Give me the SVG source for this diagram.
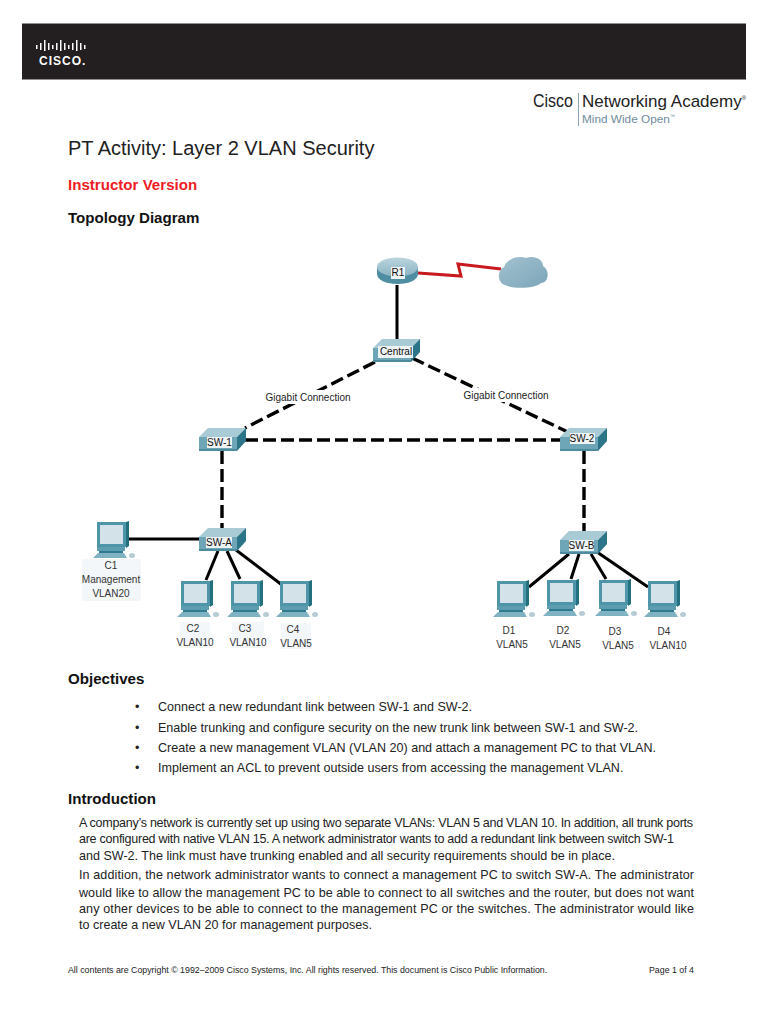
<svg xmlns="http://www.w3.org/2000/svg" width="768" height="1024" viewBox="0 0 768 1024">
<style>
text{font-family:"Liberation Sans",Arial,sans-serif;fill:#111}
.h{font-weight:bold;font-size:15.1px}
.b{font-size:12.55px;fill:#222}
.f{font-size:8.8px;fill:#222}
.n{font-size:10px;fill:#333;text-anchor:middle}
.sl{font-size:10px;fill:#111;text-anchor:middle}
.t{font-size:10px;fill:#222;text-anchor:middle}
.lb{fill:#f4f7fa}
.tag{fill:#eef3f5}
.solid{stroke:#000;stroke-width:3;fill:none}
.dash{stroke:#000;stroke-width:3.4;fill:none;stroke-dasharray:13 5}
</style>
<defs>
<linearGradient id="cloudFill" x1="0" y1="0" x2="1" y2="1"><stop offset="0" stop-color="#a3c2d0"/><stop offset="1" stop-color="#7ba5b8"/></linearGradient>
<linearGradient id="routerTop" x1="0" y1="0" x2="0" y2="1"><stop offset="0" stop-color="#bcd5de"/><stop offset="1" stop-color="#8ab3c3"/></linearGradient>
<g id="sw">
<path d="M0 9L9 0H47L38 9Z" fill="#a9cbd6"/>
<rect x="0" y="9" width="38" height="14" fill="#6ea5b7"/>
<path d="M38 9L47 0V13L38 23Z" fill="#2c7488"/>
<rect x="0" y="21" width="38" height="2" fill="#4d8b9e"/>
</g>
<g id="pc">
<rect x="4" y="0" width="29" height="25" fill="#4f95a9"/>
<path d="M33 0L36 -1V24L33 26Z" fill="#23707f"/>
<rect x="7" y="3" width="23" height="19" fill="#d3e1e9"/>
<rect x="4" y="25" width="28" height="4" fill="#5d9db0"/>
<rect x="6" y="29" width="24" height="2" fill="#2f7a8e"/>
<path d="M5 31H31L34 36H0Z" fill="#7fb3c3"/>
<ellipse cx="39" cy="33.500" rx="3" ry="2.500" fill="#b5ccd5"/>
</g>
</defs>
<rect width="768" height="1024" fill="#fff"/>

<g id="header">
<rect x="22" y="23.500" width="724" height="56" fill="#231f20"/>
<g fill="#fff">
<rect x="36" y="45" width="1.500" height="4"/><rect x="40" y="43" width="1.500" height="7"/><rect x="44" y="40" width="1.500" height="11"/><rect x="48" y="43" width="1.500" height="7"/><rect x="52" y="45" width="1.500" height="4"/><rect x="56" y="43" width="1.500" height="7"/><rect x="60" y="40" width="1.500" height="11"/><rect x="64" y="43" width="1.500" height="7"/><rect x="68" y="45" width="1.500" height="4"/><rect x="72" y="43" width="1.500" height="7"/><rect x="76" y="40" width="1.500" height="11"/><rect x="80" y="43" width="1.500" height="7"/><rect x="84" y="45" width="1.500" height="4"/>
</g>
<text x="39" y="65" style="font-size:12px;font-weight:bold;fill:#fff;letter-spacing:1px">CISCO.</text>
<text x="533" y="107" style="font-size:18px;fill:#222" textLength="40" lengthAdjust="spacingAndGlyphs">Cisco</text>
<rect x="578" y="93" width="1" height="33" fill="#8fa5ad"/>
<text x="582" y="107" style="font-size:17px;fill:#222">Networking Academy<tspan dy="-7" style="font-size:6px">®</tspan></text>
<text x="582" y="123" style="font-size:11.800px;fill:#6f8c9a">Mind Wide Open<tspan dy="-5" style="font-size:5px">™</tspan></text>
</g>

<text x="68" y="155" style="font-size:20px;fill:#222">PT Activity: Layer 2 VLAN Security</text>
<text x="68" y="190" class="h" style="fill:#ee1c25">Instructor Version</text>
<text x="68" y="223" class="h">Topology Diagram</text>

<g id="connectors">
<path class="solid" d="M397 285V340"/>
<path d="M418 273L461 276L458 264L501 269" fill="none" stroke="#c8191f" stroke-width="3"/>
<path class="dash" d="M375 362L245 428"/>
<path class="dash" d="M412 358L570 433"/>
<path class="dash" d="M245 440H560"/>
<path class="dash" d="M222 451V528"/>
<path class="dash" d="M584 451V531"/>
<path class="solid" d="M127 539H199"/>
<path class="solid" d="M218 551L206 580"/>
<path class="solid" d="M227 551L240 579"/>
<path class="solid" d="M236 550L282 585"/>
<path class="solid" d="M569 554L529 587"/>
<path class="solid" d="M579 554L571 579"/>
<path class="solid" d="M591 554L606 579"/>
<path class="solid" d="M597 552L648 587"/>
</g>

<g id="link-label-left"><rect x="263" y="390" width="90" height="14" fill="#fff"/><text x="308" y="401" class="t">Gigabit Connection</text></g>
<g id="link-label-right"><rect x="461" y="388" width="90" height="14" fill="#fff"/><text x="506" y="399" class="t">Gigabit Connection</text></g>

<g id="R1">
<path d="M377 267V274C377 280 386 284 397.500 284S418 280 418 274V267Z" fill="#4f8ea2"/>
<ellipse cx="397.500" cy="267" rx="20.500" ry="9.500" fill="url(#routerTop)"/>
<rect x="391" y="267" width="14" height="12" class="tag"/>
<text x="398" y="276" class="sl">R1</text>
</g>
<g id="cloud">
<path d="M505 285C497 283 497 270 504 267C507 258 519 255 526 258C534 255 543 259 543 266C550 270 549 283 541 283C534 289 513 289 505 285Z" fill="url(#cloudFill)"/>
</g>
<g id="Central"><use href="#sw" x="373" y="339"/><rect x="378" y="346" width="35" height="12" class="tag"/><text x="396" y="355" class="sl">Central</text></g>
<g id="SW-1"><use href="#sw" x="199" y="428"/><rect x="207" y="437" width="25" height="11" class="tag"/><text x="219.500" y="446" class="sl">SW-1</text></g>
<g id="SW-2"><use href="#sw" x="560" y="428"/><rect x="570" y="433" width="25" height="11" class="tag"/><text x="582" y="442" class="sl">SW-2</text></g>
<g id="SW-A"><use href="#sw" x="199" y="528"/><rect x="206" y="537" width="26" height="11" class="tag"/><text x="219" y="546" class="sl">SW-A</text></g>
<g id="SW-B"><use href="#sw" x="560" y="531"/><rect x="569" y="540" width="25" height="11" class="tag"/><text x="581.500" y="549" class="sl">SW-B</text></g>

<g id="C1"><use href="#pc" x="93" y="522"/><rect x="82" y="559" width="59" height="42" class="lb"/><text x="111" y="569" class="n">C1</text><text x="111" y="583" class="n">Management</text><text x="111" y="597" class="n">VLAN20</text></g>
<g id="C2"><use href="#pc" x="177" y="581"/><rect x="180" y="622" width="30" height="26" class="lb"/><text x="193" y="632" class="n">C2</text><text x="195" y="646" class="n">VLAN10</text></g>
<g id="C3"><use href="#pc" x="227" y="581"/><rect x="232" y="622" width="32" height="26" class="lb"/><text x="245" y="632" class="n">C3</text><text x="248" y="646" class="n">VLAN10</text></g>
<g id="C4"><use href="#pc" x="276" y="581"/><rect x="281" y="623" width="30" height="26" class="lb"/><text x="293" y="633" class="n">C4</text><text x="296" y="647" class="n">VLAN5</text></g>
<g id="D1"><use href="#pc" x="493" y="581"/><text x="509" y="634" class="n">D1</text><text x="512" y="648" class="n">VLAN5</text></g>
<g id="D2"><use href="#pc" x="543" y="580"/><text x="563" y="634" class="n">D2</text><text x="565" y="648" class="n">VLAN5</text></g>
<g id="D3"><use href="#pc" x="595" y="580"/><text x="615" y="635" class="n">D3</text><text x="618" y="649" class="n">VLAN5</text></g>
<g id="D4"><use href="#pc" x="644" y="581"/><text x="664" y="635" class="n">D4</text><text x="668" y="649" class="n">VLAN10</text></g>

<text x="68" y="684" class="h">Objectives</text>
<text x="135" y="711" class="b">•</text><text x="158" y="711" class="b">Connect a new redundant link between SW-1 and SW-2.</text>
<text x="135" y="732" class="b">•</text><text x="158" y="732" class="b">Enable trunking and configure security on the new trunk link between SW-1 and SW-2.</text>
<text x="135" y="752" class="b">•</text><text x="158" y="752" class="b">Create a new management VLAN (VLAN 20) and attach a management PC to that VLAN.</text>
<text x="135" y="772" class="b">•</text><text x="158" y="772" class="b">Implement an ACL to prevent outside users from accessing the management VLAN.</text>
<text x="68" y="804" class="h">Introduction</text>
<text x="79" y="827" class="b" textLength="614">A company’s network is currently set up using two separate VLANs: VLAN 5 and VLAN 10. In addition, all trunk ports</text>
<text x="79" y="843" class="b" textLength="595">are configured with native VLAN 15. A network administrator wants to add a redundant link between switch SW-1</text>
<text x="79" y="860" class="b">and SW-2. The link must have trunking enabled and all security requirements should be in place.</text>
<text x="79" y="879" class="b" textLength="615">In addition, the network administrator wants to connect a management PC to switch SW-A. The administrator</text>
<text x="79" y="897" class="b" textLength="615">would like to allow the management PC to be able to connect to all switches and the router, but does not want</text>
<text x="79" y="913" class="b" textLength="615">any other devices to be able to connect to the management PC or the switches. The administrator would like</text>
<text x="79" y="929" class="b">to create a new VLAN 20 for management purposes.</text>
<text x="68" y="973" class="f">All contents are Copyright © 1992–2009 Cisco Systems, Inc. All rights reserved. This document is Cisco Public Information.</text>
<text x="649" y="973" class="f">Page 1 of 4</text>
</svg>
